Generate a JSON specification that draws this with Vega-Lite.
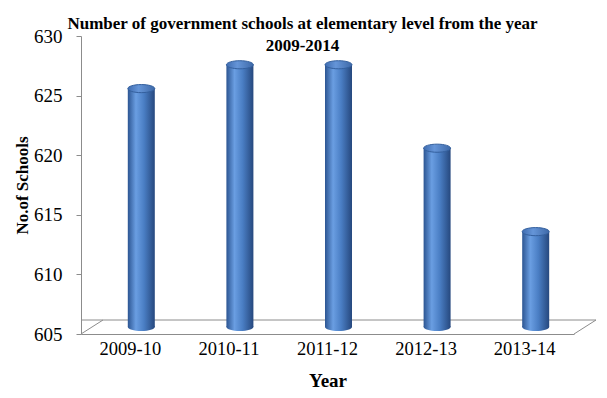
{
  "$schema": "https://vega.github.io/schema/vega-lite/v6.json",
  "width": 493,
  "height": 298,
  "autosize": "none",
  "padding": {"left": 81, "top": 36, "right": 33, "bottom": 64},
  "background": "white",
  "config": {"view": {"stroke": null}, "font": "Liberation Serif"},
  "title": {
    "text": ["Number  of government  schools at  elementary  level from  the year", "2009-2014"],
    "fontSize": 17,
    "fontWeight": "bold",
    "font": "Liberation Serif",
    "color": "black",
    "anchor": "middle",
    "frame": "group",
    "dx": -25,
    "lineHeight": 22,
    "offset": -28
  },
  "data": {
    "values": [
      {"Year": "2009-10", "Schools": 625},
      {"Year": "2010-11", "Schools": 627},
      {"Year": "2011-12", "Schools": 627},
      {"Year": "2012-13", "Schools": 620},
      {"Year": "2013-14", "Schools": 613}
    ]
  },
  "layer": [
    {
      "data": {"values": [{"floor": 605}]},
      "mark": {"type": "rule", "color": "#8c8c8c", "strokeWidth": 1, "xOffset": 22, "yOffset": -14},
      "encoding": {
        "y": {"field": "floor", "type": "quantitative", "title": "No.of Schools"}
      }
    },
    {
      "data": {"values": [{"Year": "2009-10", "floor": 605}]},
      "mark": {"type": "rule", "color": "#8c8c8c", "strokeWidth": 1, "xOffset": -49.3, "x2Offset": -27.3, "y2Offset": -14},
      "encoding": {
        "x": {"field": "Year", "type": "nominal", "sort": null, "title": "Year"},
        "x2": {"field": "Year"},
        "y": {"field": "floor", "type": "quantitative", "title": "No.of Schools"},
        "y2": {"field": "floor"}
      }
    },
    {
      "data": {"values": [{"Year": "2013-14", "floor": 605}]},
      "mark": {"type": "rule", "color": "#8c8c8c", "strokeWidth": 1, "xOffset": 49.3, "x2Offset": 71.3, "y2Offset": -14},
      "encoding": {
        "x": {"field": "Year", "type": "nominal", "sort": null, "title": "Year"},
        "x2": {"field": "Year"},
        "y": {"field": "floor", "type": "quantitative", "title": "No.of Schools"},
        "y2": {"field": "floor"}
      }
    },
    {
      "mark": {
        "type": "bar",
        "width": 27,
        "xOffset": 11,
        "yOffset": -7,
        "y2Offset": -7,
        "color": {
          "gradient": "linear", "x1": 0, "x2": 1, "y1": 0, "y2": 0,
          "stops": [
            {"offset": 0, "color": "#2c5592"},
            {"offset": 0.3, "color": "#6a9ee2"},
            {"offset": 0.6, "color": "#4a7ec4"},
            {"offset": 1, "color": "#26487e"}
          ]
        }
      },
      "encoding": {
        "x": {
          "field": "Year", "type": "nominal", "sort": null,
          "scale": {"domain": ["2009-10", "2010-11", "2011-12", "2012-13", "2013-14"], "paddingInner": 0, "paddingOuter": 0},
          "axis": {
            "title": "Year", "labelAngle": 0, "labelFontSize": 18.5, "labelColor": "black",
            "labelPadding": 14, "ticks": false, "domainColor": "#8c8c8c", "bandPosition": 0.5, "labelAlign": "center",
            "titleFontSize": 19, "titleFontWeight": "bold", "titleColor": "black", "titlePadding": 14,
            "labelFont": "Liberation Serif", "titleFont": "Liberation Serif"
          }
        },
        "y": {
          "field": "Schools", "type": "quantitative",
          "scale": {"domain": [605, 630], "zero": false, "nice": false},
          "axis": {
            "title": "No.of Schools", "values": [605, 610, 615, 620, 625, 630], "grid": false,
            "labelFontSize": 19, "labelColor": "black", "labelPadding": 14,
            "tickSize": 5, "tickColor": "#8c8c8c", "domainColor": "#8c8c8c",
            "titleFontSize": 17, "titleFontWeight": "bold", "titleColor": "black", "titlePadding": 2,
            "labelFont": "Liberation Serif", "titleFont": "Liberation Serif"
          }
        },
        "y2": {"datum": 605}
      }
    },
    {
      "mark": {
        "type": "point", "filled": true, "opacity": 1, "size": 729, "xOffset": 11, "yOffset": -7,
        "shape": "M-1,0A1,0.3,0,1,0,1,0A1,0.3,0,1,0,-1,0Z",
        "color": {
          "gradient": "linear", "x1": 0, "x2": 1, "y1": 0, "y2": 0,
          "stops": [
            {"offset": 0, "color": "#2c5592"},
            {"offset": 0.3, "color": "#6a9ee2"},
            {"offset": 0.6, "color": "#4a7ec4"},
            {"offset": 1, "color": "#26487e"}
          ]
        }
      },
      "encoding": {
        "x": {"field": "Year", "type": "nominal", "sort": null, "title": "Year"},
        "y": {"datum": 605, "type": "quantitative"}
      }
    },
    {
      "mark": {
        "type": "point", "filled": true, "opacity": 1, "size": 729, "xOffset": 11, "yOffset": -7,
        "shape": "M-1,0A1,0.3,0,1,0,1,0A1,0.3,0,1,0,-1,0Z",
        "stroke": "#34609e", "strokeWidth": 1,
        "fill": {
          "gradient": "linear", "x1": 0, "x2": 1, "y1": 0, "y2": 0,
          "stops": [
            {"offset": 0, "color": "#3f6cb0"},
            {"offset": 0.4, "color": "#6595d8"},
            {"offset": 1, "color": "#3e69a8"}
          ]
        }
      },
      "encoding": {
        "x": {"field": "Year", "type": "nominal", "sort": null, "title": "Year"},
        "y": {"field": "Schools", "type": "quantitative", "title": "No.of Schools"}
      }
    }
  ]
}
